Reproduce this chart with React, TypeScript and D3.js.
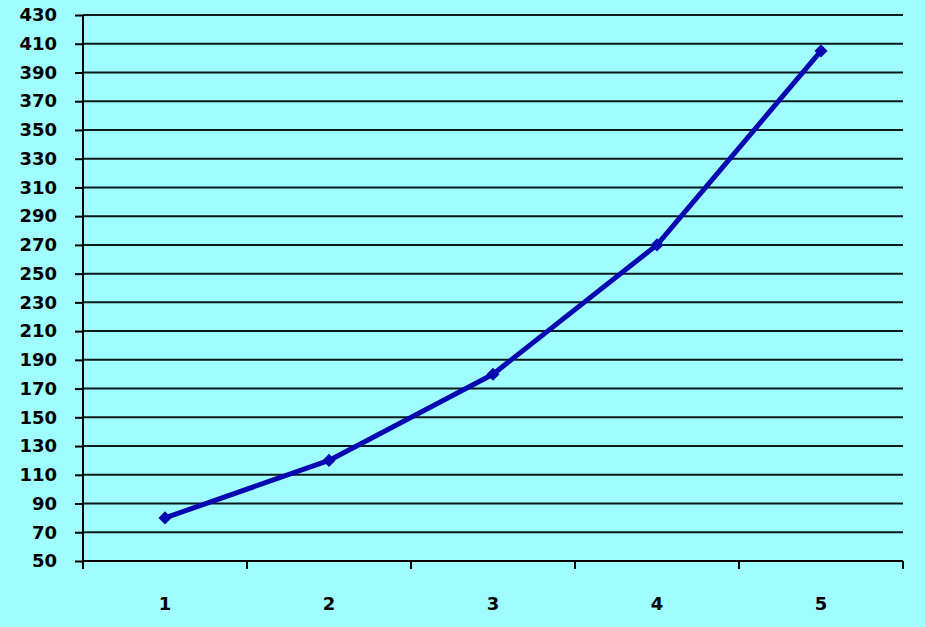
import React, { useEffect, useRef } from 'react';
import * as d3 from 'd3';

const categories = ['1', '2', '3', '4', '5'];
const values = [80, 120, 180, 270, 405];
const yTicks = [50, 70, 90, 110, 130, 150, 170, 190, 210, 230, 250, 270, 290, 310, 330, 350, 370, 390, 410, 430];

const W = 925;
const H = 627;

const App: React.FC = () => {
  const svgRef = useRef<SVGSVGElement>(null);

  useEffect(() => {
    if (!svgRef.current) return;
    const margin = { top: 15, right: 22, bottom: 66, left: 83 };
    const width = W - margin.left - margin.right;
    const height = H - margin.top - margin.bottom;

    const svg = d3.select(svgRef.current);
    svg.selectAll('*').remove();

    svg.append('rect').attr('width', W).attr('height', H).attr('fill', '#9ffcff');

    const g = svg.append('g').attr('transform', `translate(${margin.left},${margin.top})`);

    const x = d3.scaleBand<string>().domain(categories).range([0, width]);
    const y = d3.scaleLinear().domain([50, 430]).range([height, 0]);

    // Horizontal grid lines
    g.append('g')
      .selectAll('line')
      .data(yTicks)
      .join('line')
      .attr('x1', 0)
      .attr('x2', width)
      .attr('y1', d => y(d))
      .attr('y2', d => y(d))
      .attr('stroke', '#0a1a1a')
      .attr('stroke-width', 2);

    // Y axis
    const yAxis = g.append('g')
      .call(d3.axisLeft(y).tickValues(yTicks).tickSize(8).tickPadding(18).tickFormat(d3.format('d')));
    yAxis.select('.domain').attr('stroke', '#000').attr('stroke-width', 2).attr('d', `M0,${height}V0`);
    yAxis.selectAll('.tick line').attr('stroke', '#000').attr('stroke-width', 2);
    yAxis.selectAll('.tick text')
      .attr('fill', '#000')
      .attr('font-family', '"DejaVu Sans", sans-serif')
      .attr('font-weight', 'bold')
      .attr('font-size', 18);

    // X axis: ticks between categories
    const xAxis = g.append('g').attr('transform', `translate(0,${height})`);
    xAxis.append('line')
      .attr('x1', 0).attr('x2', width)
      .attr('stroke', '#000').attr('stroke-width', 2);
    const bounds = categories.map(c => x(c) as number).concat([width]);
    xAxis.selectAll('line.tk')
      .data(bounds)
      .join('line')
      .attr('class', 'tk')
      .attr('x1', d => d).attr('x2', d => d)
      .attr('y1', 0).attr('y2', 8)
      .attr('stroke', '#000').attr('stroke-width', 2);
    xAxis.selectAll('text')
      .data(categories)
      .join('text')
      .attr('x', d => (x(d) as number) + x.bandwidth() / 2)
      .attr('y', 49)
      .attr('text-anchor', 'middle')
      .attr('fill', '#000')
      .attr('font-family', '"DejaVu Sans", sans-serif')
      .attr('font-weight', 'bold')
      .attr('font-size', 18)
      .text(d => d);

    // Line
    const line = d3.line<number>()
      .x((_, i) => (x(categories[i]) as number) + x.bandwidth() / 2)
      .y(d => y(d));
    g.append('path')
      .datum(values)
      .attr('fill', 'none')
      .attr('stroke', '#0808b0')
      .attr('stroke-width', 5)
      .attr('stroke-linejoin', 'round')
      .attr('d', line);

    // Diamond markers
    const diamond = d3.symbol().type(d3.symbolDiamond2).size(110);
    g.selectAll('path.mk')
      .data(values)
      .join('path')
      .attr('class', 'mk')
      .attr('transform', (d, i) => `translate(${(x(categories[i]) as number) + x.bandwidth() / 2},${y(d)})`)
      .attr('d', diamond)
      .attr('fill', '#0808b0');
  }, []);

  return (
    <div style={{ position: 'fixed', left: 0, top: 0 }}>
      <svg ref={svgRef} width={W} height={H} style={{ display: 'block' }} />
    </div>
  );
};

export default App;
